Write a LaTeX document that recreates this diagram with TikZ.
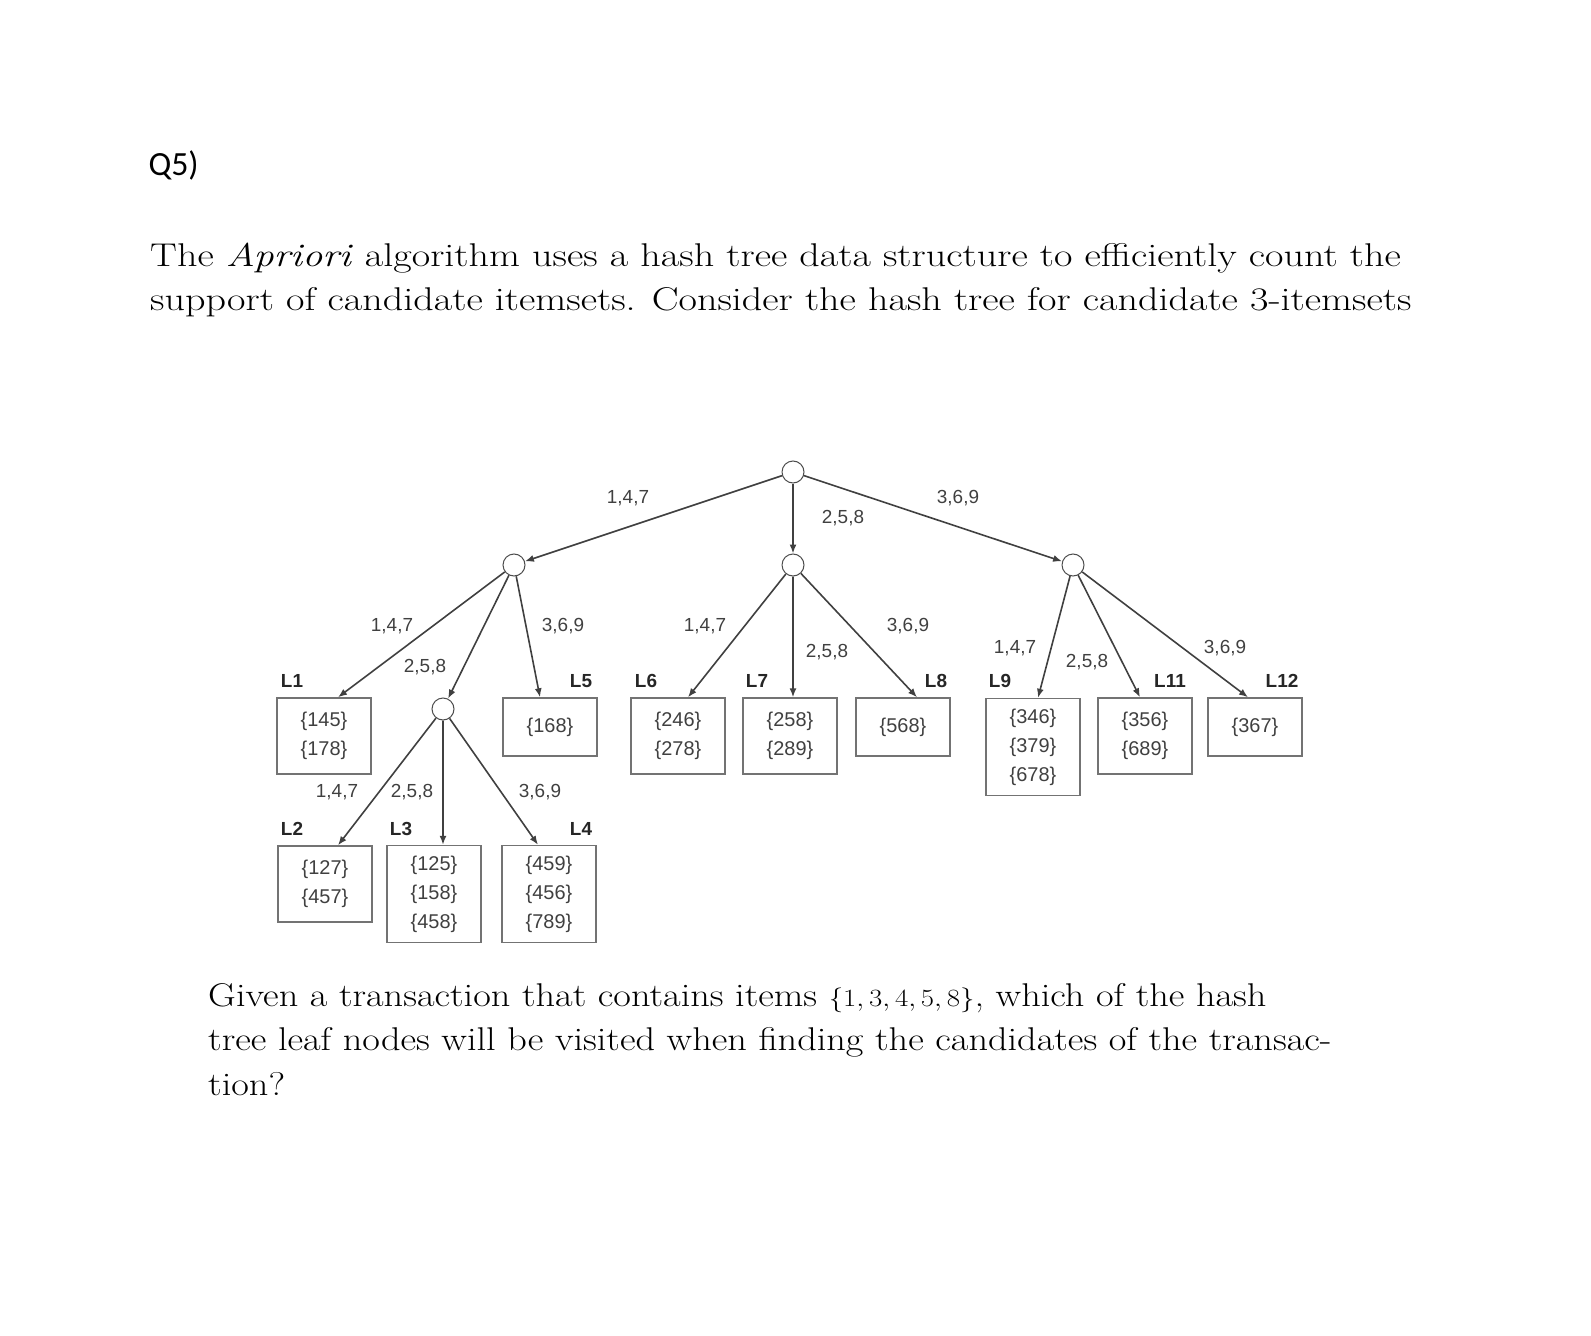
\documentclass[tikz,border=0pt]{standalone}
\usepackage{fontspec}
\newfontfamily\carl{Carlito}
\newfontfamily\lsans{Liberation Sans}
\usetikzlibrary{arrows.meta}
\begin{document}
\begin{tikzpicture}[x=1bp,y=-1bp,
  circ/.style={circle,draw=black!70,fill=white,minimum size=22bp,inner sep=0pt,line width=1bp},
  leaf/.style={draw=black!55,line width=1.4bp,minimum width=94bp,align=center,font=\lsans\fontsize{20}{29}\selectfont,text=black!75,inner sep=2bp},
  lab/.style={font=\lsans\bfseries\fontsize{19}{22}\selectfont,text=black!85},
  el/.style={font=\lsans\fontsize{19}{22}\selectfont,text=black!75},
  edge/.style={draw=black!75,line width=1.6bp,-{Latex[length=9bp,width=7bp]}},
  txt/.style={anchor=west,font=\fontsize{33}{44}\selectfont,inner sep=0pt,transform shape}]
\useasboundingbox (0,0) rectangle (1591,1336);
\node[anchor=west,font=\carl\fontsize{34}{40}\selectfont] (q) at (145,165) {Q5)};
\node[txt,xscale=1.22] (t1) at (150,258) {The \textit{Apriori} algorithm uses a hash tree data structure to efficiently count the};
\node[txt,xscale=1.22] (t2) at (150,302) {support of candidate itemsets. Consider the hash tree for candidate 3-itemsets};
% tree
\node[circ] (R) at (793,472) {};
\node[circ] (A) at (514,565) {};
\node[circ] (B) at (793,565) {};
\node[circ] (C) at (1073,565) {};
\node[circ] (D) at (443,709) {};
\node[leaf,minimum height=76bp] (L1) at (324,736) {\{145\}\\\{178\}};
\node[leaf,minimum height=58bp] (L5) at (550,727) {\{168\}};
\node[leaf,minimum height=76bp] (L6) at (678,736) {\{246\}\\\{278\}};
\node[leaf,minimum height=76bp] (L7) at (790,736) {\{258\}\\\{289\}};
\node[leaf,minimum height=58bp] (L8) at (903,727) {\{568\}};
\node[leaf,minimum height=97bp] (L9) at (1033,747) {\{346\}\\\{379\}\\\{678\}};
\node[leaf,minimum height=76bp] (L11) at (1145,736) {\{356\}\\\{689\}};
\node[leaf,minimum height=58bp] (L12) at (1255,727) {\{367\}};
\node[leaf,minimum height=76bp] (L2) at (325,884) {\{127\}\\\{457\}};
\node[leaf,minimum height=97bp] (L3) at (434,894) {\{125\}\\\{158\}\\\{458\}};
\node[leaf,minimum height=97bp] (L4) at (549,894) {\{459\}\\\{456\}\\\{789\}};
\foreach \n/\x/\y in {l1/292/681,l5/581/681,l6/646/681,l7/757/681,l8/936/681,l9/1000/681,l11/1170/681,l12/1282/681,l2/292/829,l3/401/829,l4/581/829}
  \node[lab] (\n) at (\x,\y) {\expandafter\MakeUppercase\expandafter{\n}};
\draw[edge] (R) -- (A);
\draw[edge] (R) -- (B);
\draw[edge] (R) -- (C);
\draw[edge] (A) -- ([xshift=14bp]L1.north);
\draw[edge] (A) -- (D);
\draw[edge] (A) -- ([xshift=-10bp]L5.north);
\draw[edge] (B) -- ([xshift=10bp]L6.north);
\draw[edge] (B) -- ([xshift=3bp]L7.north);
\draw[edge] (B) -- ([xshift=14bp]L8.north);
\draw[edge] (C) -- ([xshift=5bp]L9.north);
\draw[edge] (C) -- ([xshift=-5bp]L11.north);
\draw[edge] (C) -- ([xshift=-7bp]L12.north);
\draw[edge] (D) -- ([xshift=13bp]L2.north);
\draw[edge] (D) -- ([xshift=9bp]L3.north);
\draw[edge] (D) -- ([xshift=-11bp]L4.north);
\foreach \n/\x/\y/\t in {e1/628/498/{1,4,7},e2/843/518/{2,5,8},e3/958/498/{3,6,9},
  e4/392/626/{1,4,7},e5/425/667/{2,5,8},e6/563/626/{3,6,9},
  e7/705/626/{1,4,7},e8/827/652/{2,5,8},e9/908/626/{3,6,9},
  e10/1015/648/{1,4,7},e11/1087/662/{2,5,8},e12/1225/648/{3,6,9},
  e13/337/792/{1,4,7},e14/412/792/{2,5,8},e15/540/792/{3,6,9}}
  \node[el] (\n) at (\x,\y) {\t};
\node[txt,xscale=1.165] (b1) at (208,998) {Given a transaction that contains items $\{1,3,4,5,8\}$, which of the hash};
\node[txt,xscale=1.165] (b2) at (208,1042) {tree leaf nodes will be visited when finding the candidates of the transac-};
\node[txt,xscale=1.165] (b3) at (208,1084) {tion?};
\end{tikzpicture}
\end{document}
